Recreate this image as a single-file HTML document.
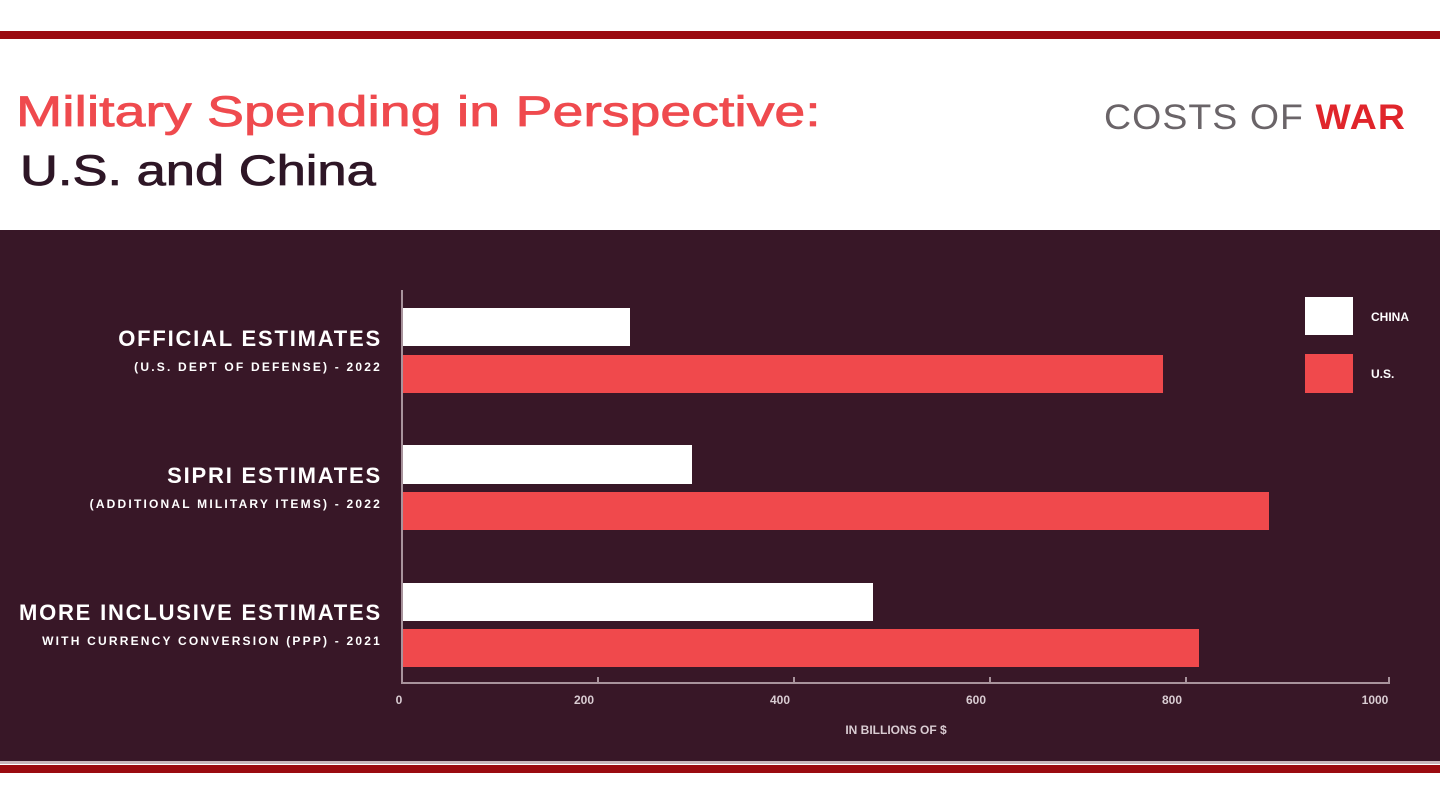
<!DOCTYPE html>
<html><head><style>
body{margin:0;width:1440px;height:810px;background:#fff;position:relative;overflow:hidden;font-family:"Liberation Sans",sans-serif}
div{position:absolute}
.w{background:#fff}.r{background:#f0494c}
.lab{right:1058px;text-align:right;color:#fff;font-weight:bold;white-space:nowrap}
.big{font-size:22px;letter-spacing:1.8px}
.sm{font-size:12px;letter-spacing:2.2px}
.t{color:#d9ccd2;font-size:12px;font-weight:bold;transform:translateX(-50%)}
</style></head><body>
<div style="left:0;top:31px;width:1440px;height:8px;background:#9a0a10"></div>
<div style="left:16px;top:88px;font-size:43px;color:#ef4a4e;white-space:nowrap;-webkit-text-stroke:0.8px #ef4a4e;transform:scaleX(1.29);transform-origin:left">Military Spending in Perspective:</div>
<div style="left:20px;top:147px;font-size:43px;color:#2e1626;white-space:nowrap;-webkit-text-stroke:0.8px #2e1626;transform:scaleX(1.22);transform-origin:left">U.S. and China</div>
<div style="left:1104px;top:98px;font-size:35px;color:#6a6468;letter-spacing:1px;white-space:nowrap;transform:scaleX(1.07);transform-origin:left">COSTS OF <b style="color:#e0252b">WAR</b></div>
<div style="left:0;top:230px;width:1440px;height:531px;background:#381727"></div>
<div style="left:0;top:761px;width:1440px;height:3px;background:#c9b6bc"></div>
<div style="left:0;top:765px;width:1440px;height:8px;background:#9a0a10"></div>
<div style="left:401px;top:290px;width:2px;height:394px;background:#a8939c"></div>
<div style="left:401px;top:682px;width:989px;height:2px;background:#a8939c"></div>
<div style="left:597px;top:677px;width:2px;height:6px;background:#a8939c"></div>
<div style="left:793px;top:677px;width:2px;height:6px;background:#a8939c"></div>
<div style="left:989px;top:677px;width:2px;height:6px;background:#a8939c"></div>
<div style="left:1185px;top:677px;width:2px;height:6px;background:#a8939c"></div>
<div style="left:1388px;top:677px;width:2px;height:6px;background:#a8939c"></div>
<div class="w" style="left:403px;top:308px;width:227px;height:38px"></div>
<div class="r" style="left:403px;top:355px;width:760px;height:38px"></div>
<div class="w" style="left:403px;top:445px;width:289px;height:39px"></div>
<div class="r" style="left:403px;top:492px;width:866px;height:38px"></div>
<div class="w" style="left:403px;top:583px;width:470px;height:38px"></div>
<div class="r" style="left:403px;top:629px;width:796px;height:38px"></div>
<div class="lab big" style="top:326px">OFFICIAL ESTIMATES</div>
<div class="lab sm" style="top:360px">(U.S. DEPT OF DEFENSE) - 2022</div>
<div class="lab big" style="top:463px">SIPRI ESTIMATES</div>
<div class="lab sm" style="top:497px">(ADDITIONAL MILITARY ITEMS) - 2022</div>
<div class="lab big" style="top:600px">MORE INCLUSIVE ESTIMATES</div>
<div class="lab sm" style="top:634px">WITH CURRENCY CONVERSION (PPP) - 2021</div>
<div class="t" style="left:399px;top:693px">0</div>
<div class="t" style="left:584px;top:693px">200</div>
<div class="t" style="left:780px;top:693px">400</div>
<div class="t" style="left:976px;top:693px">600</div>
<div class="t" style="left:1172px;top:693px">800</div>
<div class="t" style="left:1375px;top:693px">1000</div>
<div class="t" style="left:896px;top:723px;white-space:nowrap">IN BILLIONS OF $</div>
<div class="w" style="left:1305px;top:297px;width:48px;height:38px"></div>
<div class="r" style="left:1305px;top:354px;width:48px;height:39px"></div>
<div style="left:1371px;top:310px;color:#fff;font-size:12px;font-weight:bold">CHINA</div>
<div style="left:1371px;top:367px;color:#fff;font-size:12px;font-weight:bold">U.S.</div>
</body></html>
